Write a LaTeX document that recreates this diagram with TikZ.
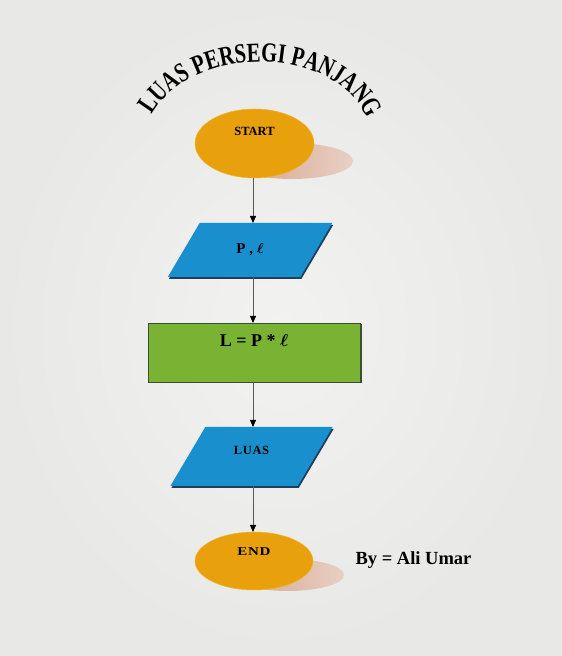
\documentclass[tikz,border=0pt]{standalone}
\usepackage{fontspec}
\setmainfont{Liberation Serif}
\newfontfamily\archfamily[FakeStretch=0.75]{Liberation Serif}
\newfontfamily\widefamily[FakeStretch=1.25]{Liberation Serif}
\usetikzlibrary{arrows.meta,shapes.geometric,shadows,decorations.text}

\definecolor{bgin}{RGB}{242,242,240}
\definecolor{bgout}{RGB}{232,232,230}
\definecolor{termorange}{RGB}{232,160,12}
\definecolor{termedge}{RGB}{240,182,44}
\definecolor{tshadowA}{RGB}{212,164,138}
\definecolor{tshadowB}{RGB}{232,208,196}
\definecolor{iofill}{RGB}{26,143,206}
\definecolor{ioshadow}{RGB}{30,62,92}
\definecolor{procfill}{RGB}{122,178,52}
\definecolor{procedge}{RGB}{62,78,52}
\definecolor{flowgray}{RGB}{88,88,88}

\newcommand{\titlefont}{\archfamily\fontsize{27.5}{27.5}\selectfont\bfseries}
\newcommand{\bell}{{\boldmath$\ell$}}

\begin{document}
\begin{tikzpicture}[
  x=1pt,y=1pt,
  terminal/.style={ellipse, fill=termorange, draw=termedge, line width=0.5pt,
    inner sep=0pt, outer sep=0pt, font=\bfseries\fontsize{12.5}{12.5}\selectfont, text height=8pt},
  io/.style={trapezium, trapezium left angle=55, trapezium right angle=125,
    trapezium stretches=true, fill=iofill, inner sep=0pt, outer sep=0pt,
    drop shadow={shadow xshift=1pt, shadow yshift=-2pt, fill=ioshadow, opacity=1}},
  process/.style={rectangle, fill=procfill, draw=procedge, line width=0.6pt,
    inner sep=0pt, outer sep=0pt,
    drop shadow={shadow xshift=1.5pt, shadow yshift=-1.5pt, fill=procedge, opacity=1}},
  flow/.style={flowgray, line width=0.8pt, -{Triangle[length=7pt,width=6pt,color=black]}},
  tshadow/.style={left color=tshadowA, right color=tshadowB}
]

% page and background
\useasboundingbox (0,0) rectangle (562,656);
\shade[inner color=bgin, outer color=bgout] (0,0) rectangle (562,656);

% title on an arch
\path[decorate, decoration={text along path, text align=left,
    text={|\titlefont|LUAS PERSEGI PANJANG}}]
  (152,541) .. controls (192,611) and (328,613) .. (366,541) -- ++(-61:30);

% cast shadows of the terminals
\shade[tshadow] (292,495) ellipse[x radius=61, y radius=18];
\shade[tshadow] (288,81) ellipse[x radius=56, y radius=16];

% flowchart blocks
\node[terminal, minimum width=119pt, minimum height=69pt, text depth=24pt] (start) at (254.5,512.5) {START};
\node[io, minimum width=165pt, minimum height=54pt, font=\bfseries\fontsize{15}{15}\selectfont] (input) at (250,406) {P , \bell};
\node[process, minimum width=212pt, minimum height=59pt, font=\bfseries\fontsize{18}{18}\selectfont,
  text height=12pt, text depth=23pt] (luas) at (254,303.5) {L = P * \bell};
\node[io, minimum width=163pt, minimum height=59pt, text height=8pt, text depth=11pt,
  font=\bfseries\fontsize{12.5}{12.5}\selectfont\addfontfeatures{LetterSpace=5}] (output) at (251.5,199.5) {LUAS};
\node[terminal, minimum width=118pt, minimum height=58pt, text depth=18pt,
  font=\widefamily\bfseries\fontsize{12}{12}\selectfont\addfontfeatures{LetterSpace=6}] (finish) at (254,95) {END};

\node[anchor=base west, font=\bfseries\fontsize{18.5}{18.5}\selectfont] (author) at (352,91) {By = Ali Umar};

% connectors
\coordinate (axis) at (253,0);
\draw[flow] (axis |- start.south) -- (axis |- input.north);
\draw[flow] (axis |- input.south) -- (axis |- luas.north);
\draw[flow] (axis |- luas.south) -- (axis |- output.north);
\draw[flow] (axis |- output.south) -- (axis |- finish.north);

\end{tikzpicture}
\end{document}
